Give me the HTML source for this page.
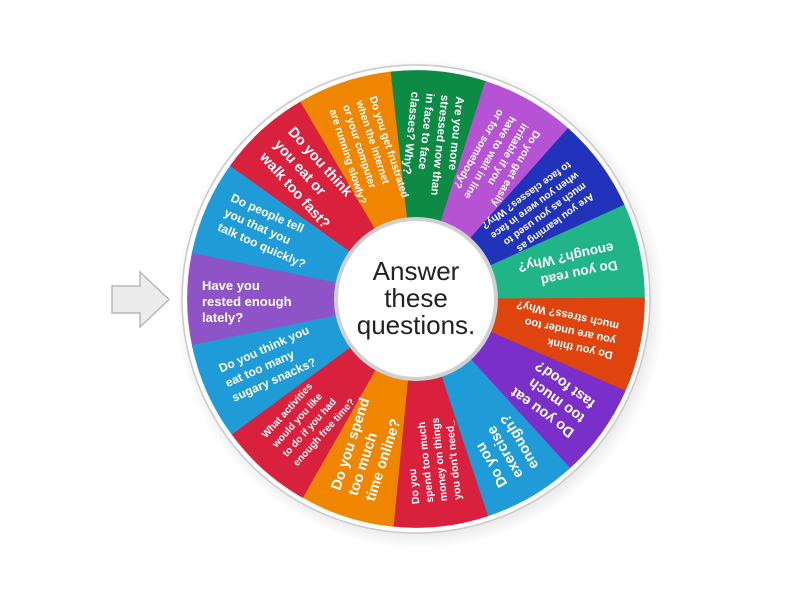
<!DOCTYPE html>
<html><head><meta charset="utf-8"><style>
html,body{margin:0;padding:0;background:#fff;}
svg{display:block;}
text{font-family:"Liberation Sans",sans-serif;font-weight:bold;fill:#fff;}
</style></head><body>
<svg width="800" height="600" viewBox="0 0 800 600" xmlns="http://www.w3.org/2000/svg">
<defs>
<path id="w" d="M416,299 L639.5,250 A228,228 0 0 1 639.5,348 Z"/>
<radialGradient id="sh" cx="0.5" cy="0.5" r="0.5"><stop offset="0.9" stop-color="#000" stop-opacity="0.12"/><stop offset="1" stop-color="#000" stop-opacity="0"/></radialGradient>
</defs>
<circle cx="420" cy="304" r="245" fill="url(#sh)"/>
<circle cx="416" cy="299" r="234" fill="#fff" stroke="#c9c9c9" stroke-width="1.5"/>
<g>
<use href="#w" fill="#8e54c7" transform="rotate(180 416 299)"/>
<use href="#w" fill="#1f9bd8" transform="rotate(204 416 299)"/>
<use href="#w" fill="#d9203c" transform="rotate(228 416 299)"/>
<use href="#w" fill="#f08600" transform="rotate(252 416 299)"/>
<use href="#w" fill="#0d8a43" transform="rotate(276 416 299)"/>
<use href="#w" fill="#b653d4" transform="rotate(300 416 299)"/>
<use href="#w" fill="#2132bb" transform="rotate(324 416 299)"/>
<use href="#w" fill="#20b486" transform="rotate(348 416 299)"/>
<use href="#w" fill="#e0440e" transform="rotate(12 416 299)"/>
<use href="#w" fill="#7a30c8" transform="rotate(36 416 299)"/>
<use href="#w" fill="#1f9bd8" transform="rotate(60 416 299)"/>
<use href="#w" fill="#d9203c" transform="rotate(84 416 299)"/>
<use href="#w" fill="#f08600" transform="rotate(108 416 299)"/>
<use href="#w" fill="#d9203c" transform="rotate(132 416 299)"/>
<use href="#w" fill="#1f9bd8" transform="rotate(156 416 299)"/>
</g>
<g transform="rotate(0 416 299)" font-size="13"><text x="202" y="290">Have you</text><text x="202" y="306">rested enough</text><text x="202" y="322">lately?</text></g>
<g transform="rotate(24 416 299)" font-size="12"><text x="206" y="285">Do people tell</text><text x="206" y="301">you that you</text><text x="206" y="317">talk too quickly?</text></g>
<g transform="rotate(48 416 299)" font-size="14.5"><text x="206" y="283">Do you think</text><text x="206" y="302">you eat or</text><text x="206" y="321">walk too fast?</text></g>
<g transform="rotate(72 416 299)" font-size="10.5"><text x="210" y="281">Do you get frustrated</text><text x="210" y="295">when the internet</text><text x="210" y="309">or your computer</text><text x="210" y="323">are running slowly?</text></g>
<g transform="rotate(96 416 299)" font-size="11.5"><text x="210" y="280">Are you more</text><text x="210" y="295">stressed now than</text><text x="210" y="310">in face to face</text><text x="210" y="325">classes? Why?</text></g>
<g transform="rotate(120 416 299)" font-size="10.5"><text x="210" y="281">Do you get easily</text><text x="210" y="295">irritable if you</text><text x="210" y="309">have to wait in line</text><text x="210" y="323">or for somebody?</text></g>
<g transform="rotate(144 416 299)" font-size="10"><text x="212" y="282">Are you learning as</text><text x="212" y="295">much as you used to</text><text x="212" y="308">when you were in face</text><text x="212" y="321">to face classes? Why?</text></g>
<g transform="rotate(168 416 299)" font-size="13.5"><text x="212" y="295">Do you read</text><text x="212" y="313">enough? Why?</text></g>
<g transform="rotate(192 416 299)" font-size="11"><text x="212" y="288">Do you think</text><text x="212" y="303">you are under too</text><text x="212" y="318">much stress? Why?</text></g>
<g transform="rotate(216 416 299)" font-size="14.5"><text x="210" y="286">Do you eat</text><text x="210" y="304">too much</text><text x="210" y="322">fast food?</text></g>
<g transform="rotate(240 416 299)" font-size="14.5"><text x="210" y="286">Do you</text><text x="210" y="304">exercise</text><text x="210" y="322">enough?</text></g>
<g transform="rotate(264 416 299)" font-size="10.5"><text x="212" y="281">Do you</text><text x="212" y="295">spend too much</text><text x="212" y="309">money on things</text><text x="212" y="323">you don't need_</text></g>
<g transform="rotate(288 416 299)" font-size="14.5"><text x="210" y="286">Do you spend</text><text x="210" y="304">too much</text><text x="210" y="322">time online?</text></g>
<g transform="rotate(312 416 299)" font-size="10"><text x="212" y="281">What activities</text><text x="212" y="295">would you like</text><text x="212" y="309">to do if you had</text><text x="212" y="323">enough free time?</text></g>
<g transform="rotate(336 416 299)" font-size="12"><text x="208" y="287">Do you think you</text><text x="208" y="303">eat too many</text><text x="208" y="319">sugary snacks?</text></g>
<circle cx="416" cy="299" r="80" fill="#fff" stroke="#d0d0d0" stroke-width="4"/>
<circle cx="416" cy="299" r="76" fill="#fff"/>
<g font-size="26" text-anchor="middle">
<text x="416" y="280" style="fill:#222;font-weight:normal">Answer</text>
<text x="416" y="307" style="fill:#222;font-weight:normal">these</text>
<text x="416" y="334" style="fill:#222;font-weight:normal">questions.</text>
</g>
<path d="M112,286 L140,286 L140,272 L169,299.5 L140,327 L140,313 L112,313 Z" fill="#ececec" stroke="#b8b8b8" stroke-width="1.5"/>
</svg>
</body></html>
